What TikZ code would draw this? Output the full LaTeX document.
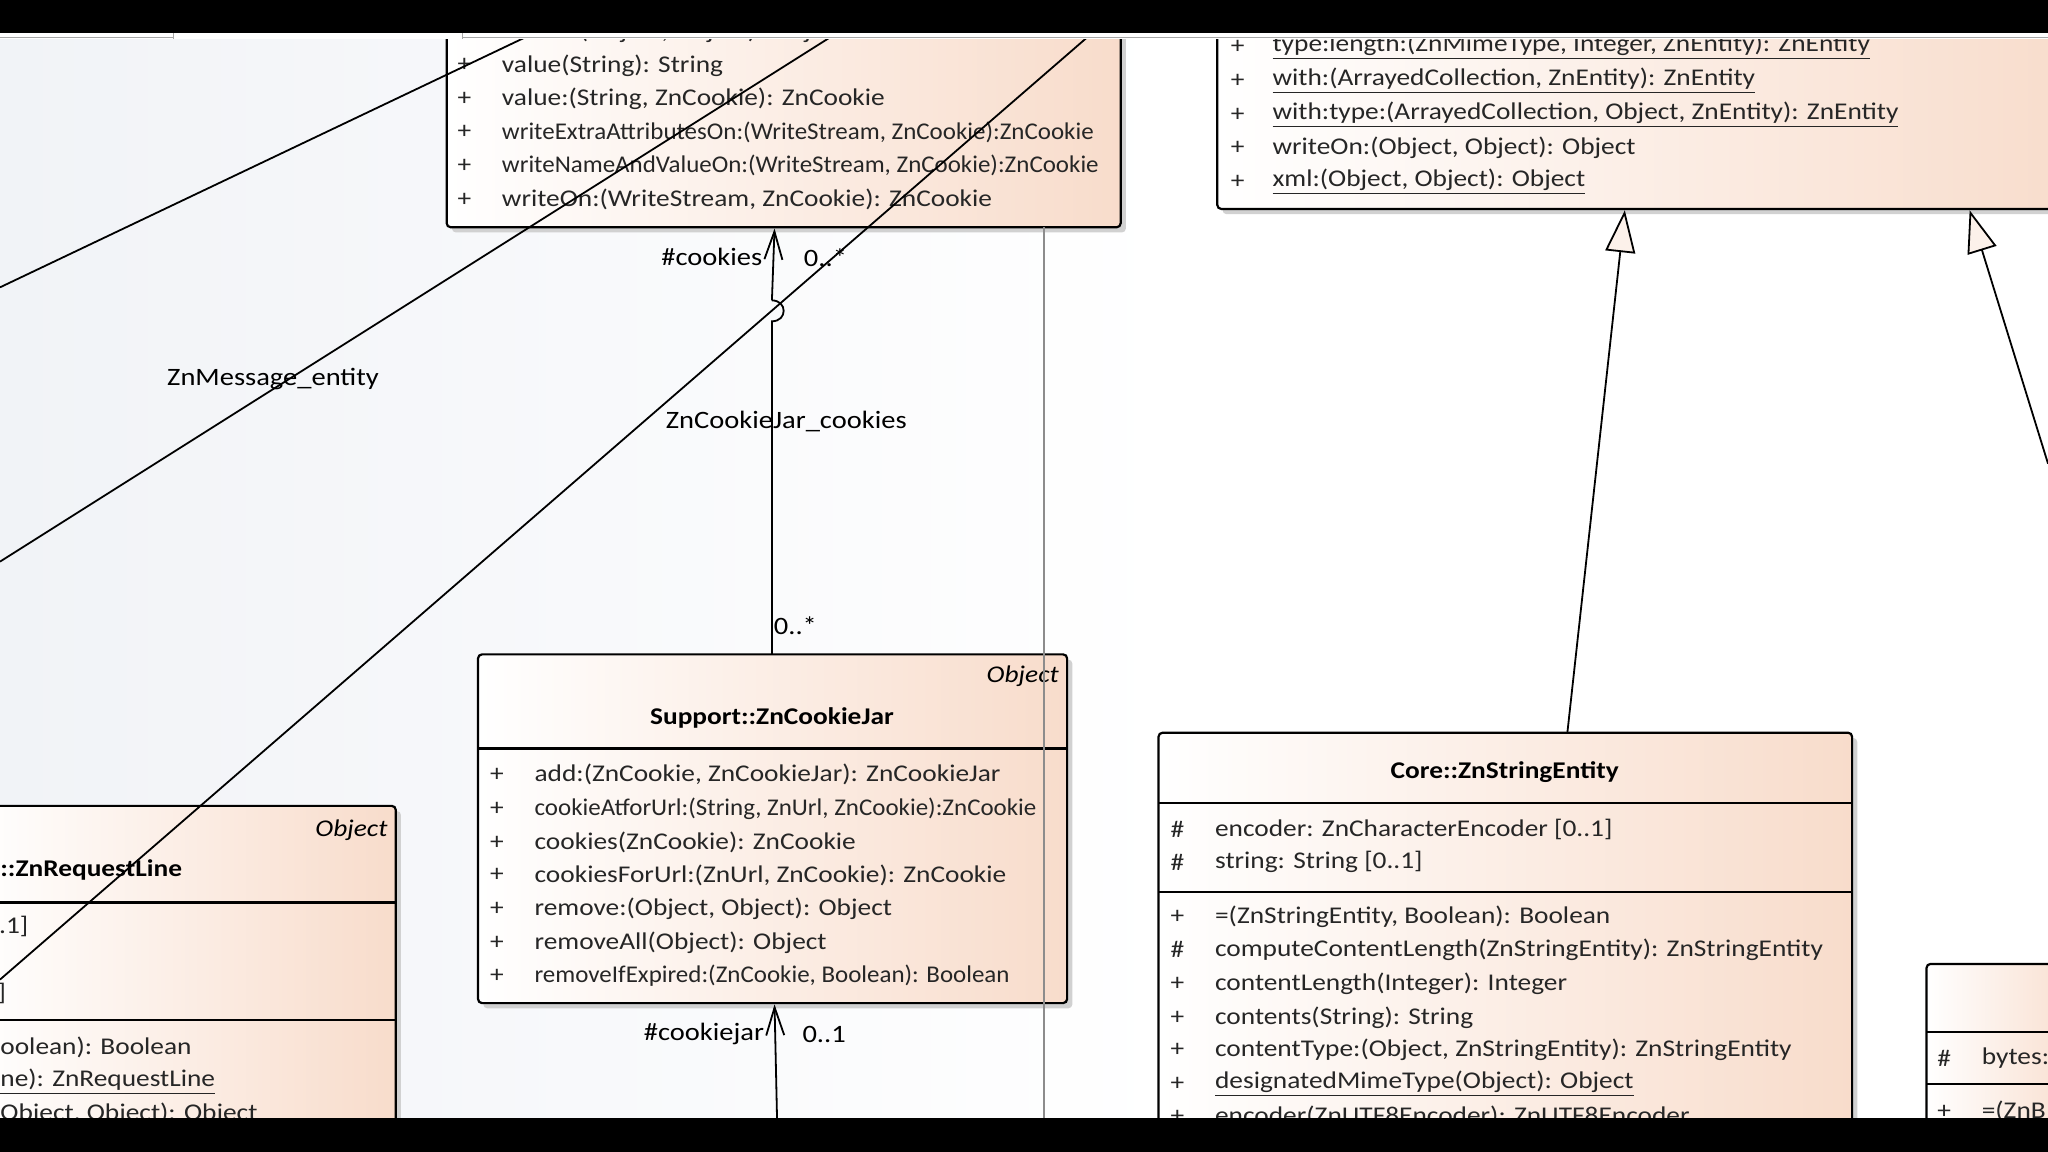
\documentclass[tikz,border=0pt]{standalone}
\usepackage{fontspec}
\setmainfont{Carlito}[FakeStretch=1.14]
\newfontfamily\narrowf{Carlito}[FakeStretch=1.04]
\usetikzlibrary{arrows.meta}
\definecolor{peach}{HTML}{F8DCCB}
\definecolor{bgc}{HTML}{F1F3F7}
\begin{document}
\begin{tikzpicture}[x=0.653pt,y=-0.653pt,
  box/.style={draw=black,line width=1.1pt,rounded corners=2pt,left color=white,right color=peach},
  shadow/.style={fill=black!18,rounded corners=2pt},
  txt/.style={anchor=west,inner sep=0pt,font=\fontsize{12}{14}\selectfont,text=black!85},
  ttl/.style={anchor=center,inner sep=0pt,font=\fontsize{12}{14}\selectfont\bfseries},
  stereo/.style={anchor=east,inner sep=0pt,font=\fontsize{12}{14}\selectfont\itshape},
  lbl/.style={inner sep=1pt,font=\fontsize{12.5}{14}\selectfont},
  conn/.style={draw=black,line width=0.9pt},
  assoc/.style={conn,-{Straight Barb[length=14pt,width=9pt,line width=0.9pt]}},
  gen/.style={conn,-{Triangle[open,length=21pt,width=15pt,fill=peach!40,line width=0.9pt]}}]
\useasboundingbox (0,0) rectangle (1568,882);
\clip (0,0) rectangle (1568,882);
\shade[left color=bgc,right color=white] (0,0) rectangle (900,882);
% ---- ZnCookie box
\fill[shadow] (346,-20) rectangle (862,178);
\path[box] (342,-20) rectangle (858,174);
\foreach \y/\t [count=\i] in {50/{value(String): String},76/{value:(String, ZnCookie): ZnCookie},101/{\narrowf writeExtraAttributesOn:(WriteStream, ZnCookie):ZnCookie},127/{\narrowf writeNameAndValueOn:(WriteStream, ZnCookie):ZnCookie},153/{writeOn:(WriteStream, ZnCookie): ZnCookie}}{
  \node[txt] (ckp\i) at (350,\y) {+};
  \node[txt] (ckt\i) at (384,\y) {\t};}
\node[txt] (ckcut) at (350,24) {+\hspace{21pt}value:(Object, Object): Object};
% ---- ZnEntity box
\fill[shadow] (936,-20) rectangle (1600,164);
\path[box] (932,-20) rectangle (1600,160);
\node[txt] (ep1) at (942,36) {+}; \node[txt] (et1) at (974,36) {\underline{type:length:(ZnMimeType, Integer, ZnEntity): ZnEntity}};
\node[txt] (ep2) at (942,62) {+}; \node[txt] (et2) at (974,62) {\underline{with:(ArrayedCollection, ZnEntity): ZnEntity}};
\node[txt] (ep3) at (942,88) {+}; \node[txt] (et3) at (974,88) {\underline{with:type:(ArrayedCollection, Object, ZnEntity): ZnEntity}};
\node[txt] (ep4) at (942,113) {+}; \node[txt] (et4) at (974,113) {writeOn:(Object, Object): Object};
\node[txt] (ep5) at (942,139) {+}; \node[txt] (et5) at (974,139) {\underline{xml:(Object, Object): Object}};
% ---- ZnCookieJar
\fill[shadow] (370,505) rectangle (821,772);
\path[box] (366,501) rectangle (817,768);
\node[stereo] (jst) at (811,518) {Object};
\node[ttl] (jti) at (591,550) {Support::ZnCookieJar};
\draw[line width=1.1pt] (366,573) -- (817,573);
\foreach \y/\t [count=\i] in {593/{add:(ZnCookie, ZnCookieJar): ZnCookieJar},619/{\narrowf cookieAtforUrl:(String, ZnUrl, ZnCookie):ZnCookie},645/{cookies(ZnCookie): ZnCookie},670/{cookiesForUrl:(ZnUrl, ZnCookie): ZnCookie},696/{remove:(Object, Object): Object},722/{removeAll(Object): Object},747/{\narrowf removeIfExpired:(ZnCookie, Boolean): Boolean}}{
  \node[txt] (jp\i) at (375,\y) {+};
  \node[txt] (jt\i) at (409,\y) {\t};}
% ---- ZnRequestLine
\fill[shadow] (-20,621) rectangle (307,900);
\path[box] (-20,617) rectangle (303,900);
\node[stereo] (rst) at (297,636) {Object};
\node[ttl,anchor=west] (rti) at (0,666) {::ZnRequestLine};
\draw[line width=1.1pt] (-20,691) -- (303,691);
\node[txt,anchor=east] (ra1) at (22,709) {.1]};
\node[txt,anchor=east] (ra2) at (5,761) {]};
\draw[line width=1.1pt] (-20,781) -- (303,781);
\node[txt] (rm1) at (0,802) {oolean): Boolean};
\node[txt] (rm2) at (0,828) {\underline{ne): ZnRequestLine}};
\node[txt] (rm3) at (0,853) {Object, Object): Object};
% ---- ZnStringEntity
\fill[shadow] (891,565) rectangle (1422,900);
\path[box] (887,561) rectangle (1418,900);
\node[ttl] (sti) at (1152,591) {Core::ZnStringEntity};
\draw[line width=1.1pt] (887,615) -- (1418,615);
\node[txt] (sa1p) at (896,635) {\#}; \node[txt] (sa1) at (930,635) {encoder: ZnCharacterEncoder [0..1]};
\node[txt] (sa2p) at (896,660) {\#}; \node[txt] (sa2) at (930,660) {string: String [0..1]};
\draw[line width=1.1pt] (887,683) -- (1418,683);
\foreach \y/\s/\t [count=\i] in {702/+/{=(ZnStringEntity, Boolean): Boolean},727/\#/{computeContentLength(ZnStringEntity): ZnStringEntity},753/+/{contentLength(Integer): Integer},779/+/{contents(String): String},804/+/{contentType:(Object, ZnStringEntity): ZnStringEntity},830/+/{\underline{designatedMimeType(Object): Object}},855/+/{encoder(ZnUTF8Encoder): ZnUTF8Encoder}}{
  \node[txt] (smp\i) at (896,\y) {\s};
  \node[txt] (smt\i) at (930,\y) {\t};}
% ---- partial box right
\fill[shadow] (1479,742) rectangle (1600,900);
\path[box] (1475,738) rectangle (1600,900);
\draw[line width=1.1pt] (1475,790) -- (1600,790);
\node[txt] (bp1) at (1483,810) {\#}; \node[txt] (bt1) at (1517,810) {bytes:};
\draw[line width=1.1pt] (1475,830) -- (1600,830);
\node[txt] (bp2) at (1483,851) {+}; \node[txt] (bt2) at (1517,851) {=(ZnB};
% ---- coordinates
\coordinate (jarTop) at (591,501);
\coordinate (hopB) at (591,246);
\coordinate (hopT) at (591,230);
\coordinate (ckBot) at (593,175);
\coordinate (jarBot) at (593,769);
\coordinate (below) at (595,860);
\coordinate (strTop) at (1200,561);
\coordinate (entA) at (1244,161);
\coordinate (rEnd) at (1568,355);
\coordinate (entB) at (1508,161);
\coordinate (la1) at (0,220); \coordinate (la2) at (416,22);
\coordinate (lb1) at (0,430); \coordinate (lb2) at (646,22);
\coordinate (lc1) at (0,750); \coordinate (lc2) at (840,22);
\coordinate (g1) at (799,174); \coordinate (g2) at (799,860);
% ---- connectors
\draw[draw=black!45,line width=1pt] (g1) -- (g2);
\draw[conn] (la1) -- (la2);
\draw[conn] (lb1) -- (lb2);
\draw[conn] (lc1) -- (lc2);
\draw[conn] (jarTop) -- (hopB) .. controls (603,246) and (603,230) .. (hopT);
\draw[assoc] (hopT) -- (ckBot);
\draw[assoc] (below) -- (jarBot);
\draw[gen] (strTop) -- (entA);
\draw[gen] (rEnd) -- (entB);
% ---- labels
\node[lbl] (l1) at (545,197) {\#cookies};
\node[lbl] (l2) at (632,197) {0..*};
\node[lbl] (l3) at (602,323) {ZnCookieJar\_cookies};
\node[lbl] (l4) at (609,479) {0..*};
\node[lbl] (l5) at (209,290) {ZnMessage\_entity};
\node[lbl] (l6) at (539,792) {\#cookiejar};
\node[lbl] (l7) at (631,792) {0..1};
% ---- top strip and bars
\fill[white] (0,24) rectangle (1568,30);
\draw[black!35] (0,29) -- (133,29) (133,24) -- (133,30) (354,24)--(354,30) (354,29) -- (1568,29);
\fill[black] (0,0) rectangle (1568,25);
\fill[black] (0,856) rectangle (1568,882);
\end{tikzpicture}
\end{document}
